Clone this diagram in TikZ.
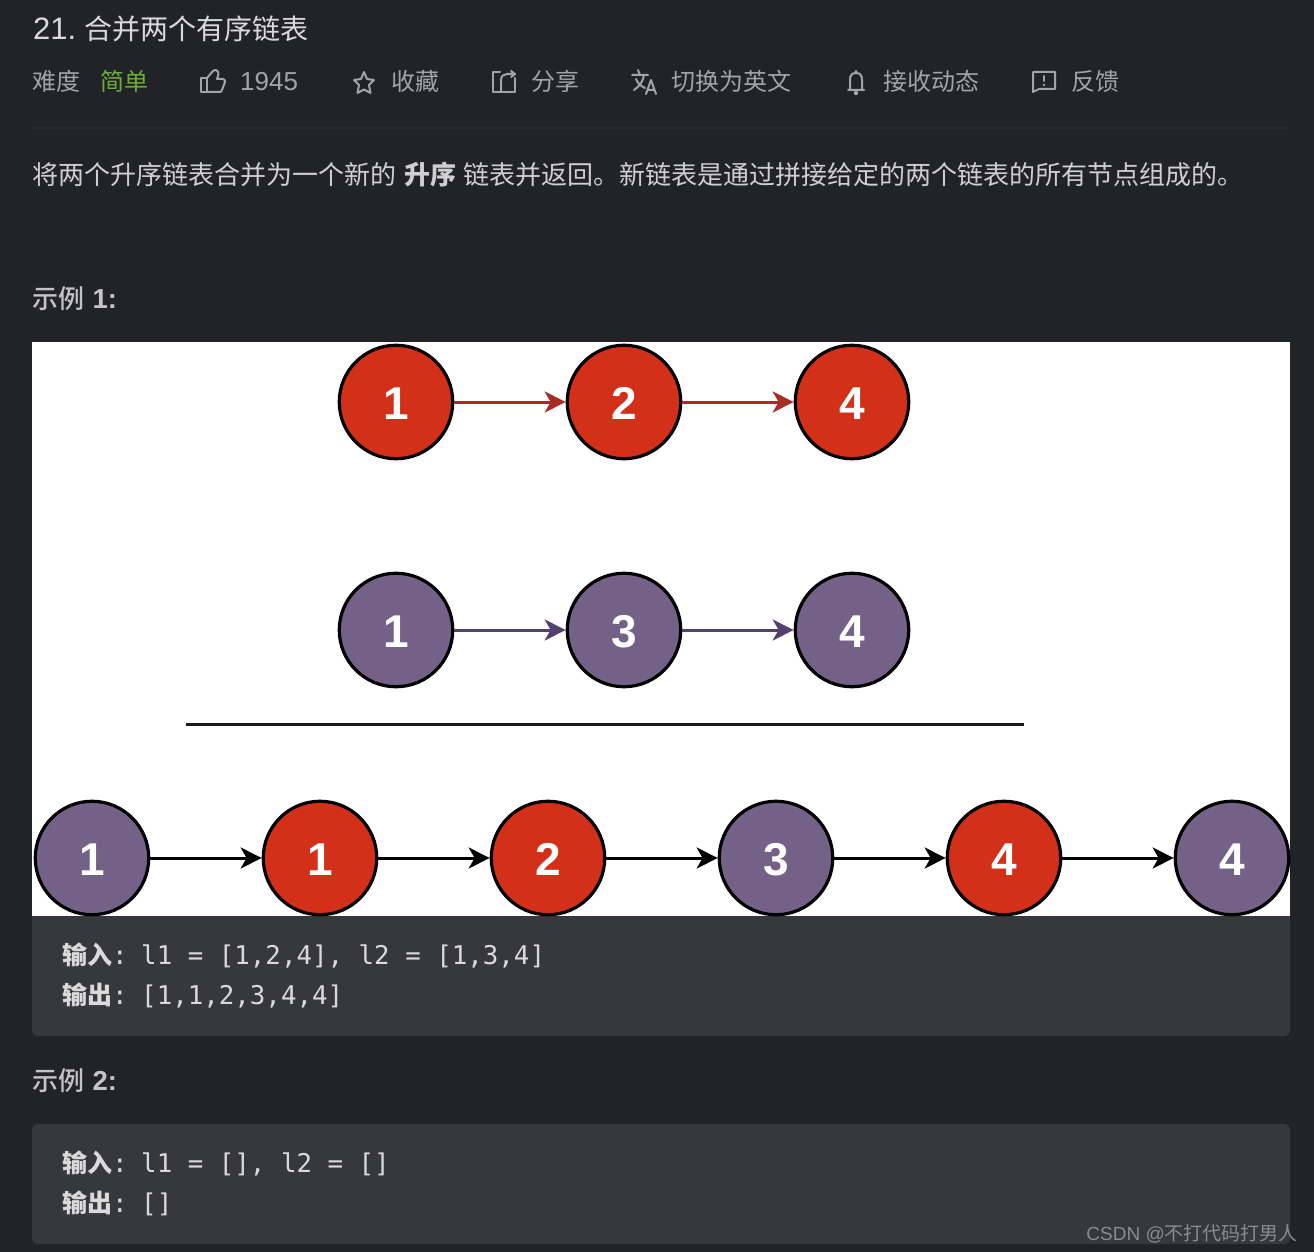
\documentclass[tikz,border=0pt]{standalone}
\usepackage{fontspec}
\setmainfont{Liberation Sans}
\newfontfamily\cjk{Noto Sans CJK SC}
\newfontfamily\cjkmed{Noto Sans CJK SC Medium}
\newfontfamily\codefont{DejaVu Sans Mono}
\usetikzlibrary{arrows.meta}
\definecolor{pagebg}{HTML}{222326}
\definecolor{codebg}{HTML}{37383B}
\definecolor{rule}{HTML}{28292C}
\definecolor{redfill}{HTML}{D33019}
\definecolor{redline}{HTML}{A92B26}
\definecolor{purplefill}{HTML}{746187}
\definecolor{purpleline}{HTML}{54406E}
\definecolor{meta}{HTML}{A3A4A6}
\definecolor{bright}{HTML}{DADADB}
\definecolor{easy}{HTML}{6DAD3C}
\tikzset{
 txt/.style={anchor=base west, inner sep=0, text=bright},
 metatxt/.style={txt, text=meta, font=\fontsize{24}{24}\selectfont\cjk},
 headtxt/.style={txt, text=bright!90!black, font=\fontsize{26}{26}\selectfont\cjkmed},
 codetxt/.style={txt, text=bright, font=\fontsize{25.8}{25.8}\selectfont\codefont},
 icon/.style={draw=meta, line width=2pt, line join=round, line cap=round},
 ball/.style={circle, draw=black, line width=3.2pt, minimum size=113.5pt, inner sep=0,
   text=white, text height=35pt, text depth=0pt, font=\fontsize{46}{46}\selectfont\bfseries},
 redball/.style={ball, fill=redfill},
 purpleball/.style={ball, fill=purplefill},
 link/.style={line width=3pt, -{Stealth[length=21pt, width=21pt, inset=6pt]}},
}
\newcommand{\cn}[1]{{\fontsize{25}{25}\selectfont\cjk\bfseries #1}:\hspace{13.5pt}}
\newcommand{\exnum}[1]{\hspace{2.5pt}{\fontsize{27.5}{27.5}\selectfont\rmfamily\bfseries #1}}
\begin{document}
\begin{tikzpicture}[x=1pt, y=-1pt]
\useasboundingbox (0,0) rectangle (1314,1252);
\fill[pagebg] (0,0) rectangle (1314,1252);
% header
\node[txt, font=\fontsize{28}{28}\selectfont] (title) at (33,40) {{\fontsize{31}{31}\selectfont 21.}\hspace{8.5pt}{\cjk 合并两个有序链表}};
\node[metatxt] (level) at (32,91) {难度};
\node[metatxt, text=easy] (easy) at (100,91) {简单};
\node[metatxt, font=\fontsize{26}{26}\selectfont] (likes) at (240,91) {1945};
\node[metatxt] (fav) at (391,91) {收藏};
\node[metatxt] (share) at (531,91) {分享};
\node[metatxt] (lang) at (671,91) {切换为英文};
\node[metatxt] (sub) at (883,91) {接收动态};
\node[metatxt] (report) at (1071,91) {反馈};
% icons
\draw[icon] (201,92) rectangle (207,78);
\draw[icon] (207,78) -- (213,71) -- (215,70) .. controls (218,70) and (219,73) .. (218,76) -- (217,79)
  -- (223,79) .. controls (225,79) and (225,81) .. (225,82) -- (222,90) .. controls (222,92) and (220,92) .. (219,92) -- (207,92);
\draw[icon] (364,72) -- (367,79) -- (374,80) -- (369,85) -- (370.5,93) -- (364,89.5) -- (357.5,93) -- (359,85) -- (354,80) -- (361,79) -- cycle;
\draw[icon] (500,72) -- (493,72) -- (493,92) -- (515,92) -- (515,78);
\draw[icon] (501,92) -- (501,80) .. controls (501,76) and (504,74) .. (507,74) -- (515,74) (511,71) -- (515,74) -- (511,77);
\draw[icon] (632,75) -- (648,75) (638,70) -- (640,75) (644,75) .. controls (643,81) and (640,86) .. (634,90) (636,79) .. controls (638,84) and (641,86) .. (645,88);
\draw[icon] (646,94) -- (651,80) -- (656,94) (648,90) -- (654,90);
\draw[icon] (850,89) -- (850,80) .. controls (850,75) and (852,73) .. (856,73) .. controls (860,73) and (862,75) .. (862,80) -- (862,89) (848,90) -- (864,90);
\fill[meta] (856,71.5) circle (1.6) (856,93) circle (2.2);
\draw[icon] (1033,92) -- (1033,72) -- (1055,72) -- (1055,89) -- (1039,89) -- cycle;
\draw[icon] (1044,76) -- (1044,81);
\fill[meta] (1044,85) circle (1.4);
\draw[rule, line width=1.5pt] (32,128) -- (1290,128);
\node[txt, text=bright!95!black, font=\fontsize{26}{26}\selectfont\cjk] (intro) at (32,185)
  {将两个升序链表合并为一个新的\hspace{2pt} {\bfseries 升序}\hspace{2pt} 链表并返回。新链表是通过拼接给定的两个链表的所有节点组成的。};
\node[headtxt] (ex1) at (32,308) {示例 \exnum{1:}};
% picture
\fill[codebg, rounded corners=5pt] (32,900) rectangle (1290,1036);
\fill[white] (32,342) rectangle (1290,916);
\foreach \name/\x/\val in {a/396/1,b/624/2,c/852/4}
 \node[redball] (\name) at (\x,402) {\val};
\foreach \name/\x/\val in {d/396/1,e/624/3,f/852/4}
 \node[purpleball] (\name) at (\x,630) {\val};
\foreach \name/\x/\val/\kind in {g/92/1/purpleball,h/320/1/redball,i/548/2/redball,j/776/3/purpleball,k/1004/4/redball,l/1232/4/purpleball}
 \node[\kind] (\name) at (\x,858) {\val};
\foreach \from/\to in {a/b,b/c}
 \draw[link, redline] (\from) -- (\to);
\foreach \from/\to in {d/e,e/f}
 \draw[link, purpleline] (\from) -- (\to);
\foreach \from/\to in {g/h,h/i,i/j,j/k,k/l}
 \draw[link, black] (\from) -- (\to);
\coordinate (sumleft) at (186,724.5);
\coordinate (sumright) at (1024,724.5);
\draw[black!90, line width=3.3pt] (sumleft) -- (sumright);
% example boxes
\node[codetxt] (in1) at (62,964) {\cn{输入}l1 = [1,2,4], l2 = [1,3,4]};
\node[codetxt] (out1) at (62,1004) {\cn{输出}[1,1,2,3,4,4]};
\node[headtxt] (ex2) at (32,1090) {示例 \exnum{2:}};
\fill[codebg, rounded corners=5pt] (32,1124) rectangle (1290,1244);
\node[codetxt] (in2) at (62,1172) {\cn{输入}l1 = [], l2 = []};
\node[codetxt] (out2) at (62,1212) {\cn{输出}[]};
\node[txt, anchor=base east, text=meta!85!black, font=\fontsize{19}{19}\selectfont] (mark) at (1298,1240) {CSDN @{\cjk 不打代码打男人}};
\end{tikzpicture}
\end{document}
